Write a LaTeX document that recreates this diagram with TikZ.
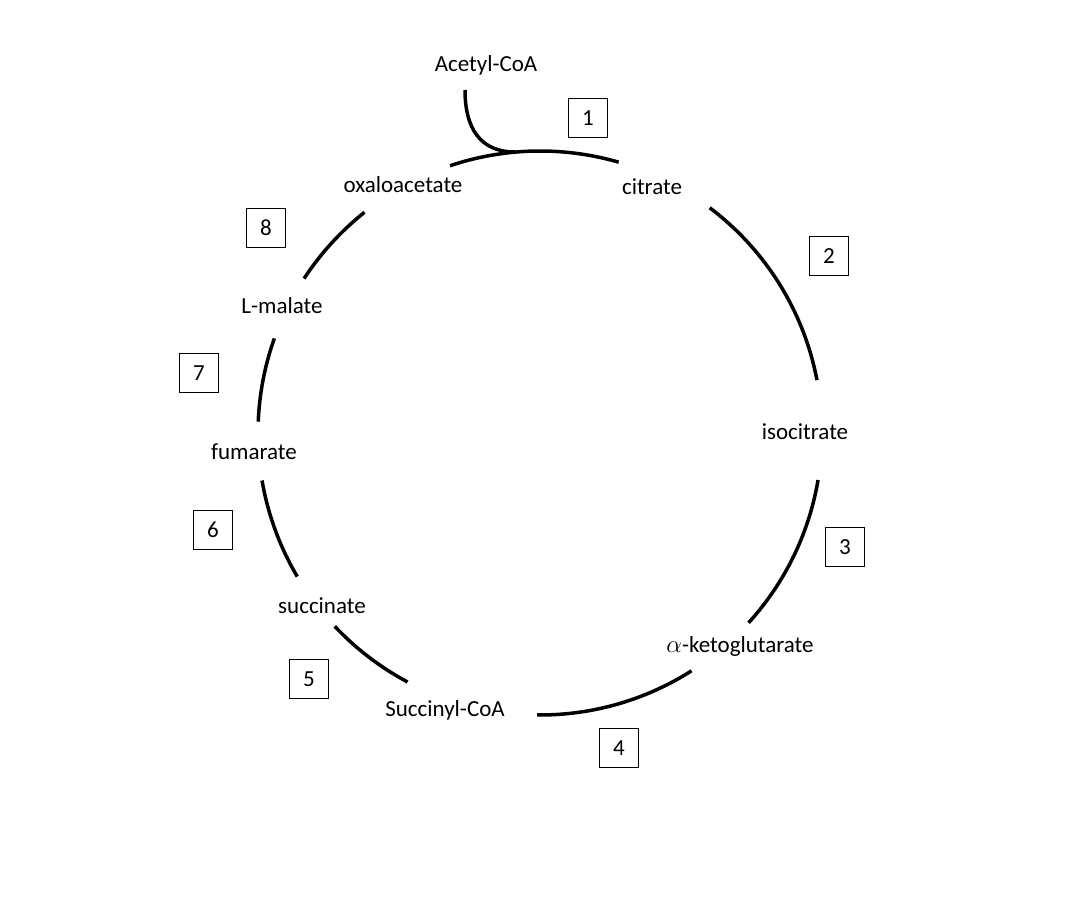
\documentclass[tikz,border=0pt]{standalone}
\usepackage{fontspec}
\setmainfont{Carlito}
\begin{document}
\begin{tikzpicture}[x=1pt,y=1pt,
  lbl/.style={font=\fontsize{23}{26}\selectfont},
  num/.style={draw,line width=0.8pt,minimum size=39pt,inner sep=0pt,font=\fontsize{23}{26}\selectfont},
  cyc/.style={line width=3.5pt}]
\useasboundingbox (0,0) rectangle (1076,898);
\coordinate (c) at (540,465);
\node[lbl] (acoa) at (486,833) {Acetyl-CoA};
\node[lbl] (cit) at (652,711) {citrate};
\node[lbl] (oaa) at (403,713) {oxaloacetate};
\node[lbl] (mal) at (282,592) {L-malate};
\node[lbl] (fum) at (254,446) {fumarate};
\node[lbl] (suc) at (322,292) {succinate};
\node[lbl] (scoa) at (445,188) {Succinyl-CoA};
\node[lbl] (akg) at (740,252) {$\alpha$-ketoglutarate};
\node[lbl] (iso) at (805,466) {isocitrate};
\node[num] (n1) at (588,780) {1};
\node[num] (n2) at (829,642) {2};
\node[num] (n3) at (845,351) {3};
\node[num] (n4) at (619,150) {4};
\node[num] (n5) at (309,219) {5};
\node[num] (n6) at (213,368) {6};
\node[num] (n7) at (199,525) {7};
\node[num] (n8) at (266,670) {8};
\foreach \a/\b in {108.6/73.8, 53/10.8, -9.6/-42.3, -57.5/-90.6, -118/-136.7, -149.4/-170.3, 177.7/160.4, 146.8/128.5}
  \draw[cyc] (c) ++(\a:282) arc[start angle=\a,end angle=\b,radius=282];
\coordinate (j) at (515,746);
\draw[cyc] (465,808) .. controls (465,770) and (480,746) .. (j);
\end{tikzpicture}
\end{document}
